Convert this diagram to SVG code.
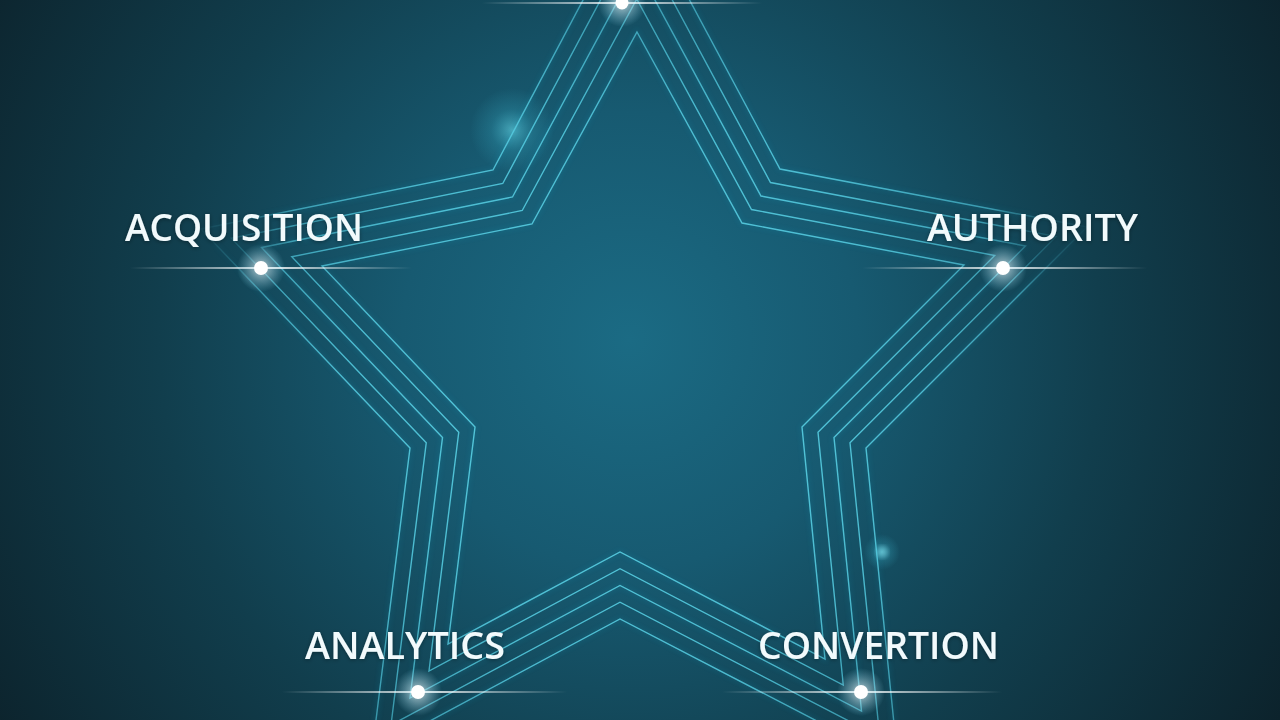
<svg xmlns="http://www.w3.org/2000/svg" width="1280" height="720" viewBox="0 0 1280 720">
  <defs>
    <radialGradient id="bg" gradientUnits="userSpaceOnUse" cx="630" cy="340" r="760">
      <stop offset="0" stop-color="#1b6b84"/>
      <stop offset="0.3" stop-color="#175a71"/>
      <stop offset="0.62" stop-color="#113e4d"/>
      <stop offset="1" stop-color="#0c222b"/>
    </radialGradient>
    <radialGradient id="lineFade" gradientUnits="userSpaceOnUse" cx="632" cy="400" r="480">
      <stop offset="0" stop-color="#5cd4e6" stop-opacity="0.95"/>
      <stop offset="0.6" stop-color="#55cde2" stop-opacity="0.85"/>
      <stop offset="1" stop-color="#4ac0d6" stop-opacity="0.5"/>
    </radialGradient>
    <radialGradient id="hole">
      <stop offset="0" stop-color="#181818"/>
      <stop offset="0.55" stop-color="#707070"/>
      <stop offset="1" stop-color="#ffffff"/>
    </radialGradient>
    <mask id="tipMask" maskUnits="userSpaceOnUse" x="0" y="-200" width="1280" height="1100">
      <rect x="0" y="-200" width="1280" height="1100" fill="#ffffff"/>
      <circle cx="200" cy="230" r="95" fill="url(#hole)"/>
      <circle cx="1085" cy="228" r="95" fill="url(#hole)"/>
    </mask>
    <radialGradient id="dotGlow">
      <stop offset="0" stop-color="#ffffff" stop-opacity="0.95"/>
      <stop offset="0.3" stop-color="#e0f8ff" stop-opacity="0.5"/>
      <stop offset="1" stop-color="#9be8ff" stop-opacity="0"/>
    </radialGradient>
    <radialGradient id="spot">
      <stop offset="0" stop-color="#6fe6f5" stop-opacity="0.55"/>
      <stop offset="0.5" stop-color="#40c0d8" stop-opacity="0.2"/>
      <stop offset="1" stop-color="#40c0d8" stop-opacity="0"/>
    </radialGradient>
    <linearGradient id="streak" x1="0" y1="0" x2="1" y2="0">
      <stop offset="0" stop-color="#ffffff" stop-opacity="0"/>
      <stop offset="0.5" stop-color="#ffffff" stop-opacity="0.85"/>
      <stop offset="1" stop-color="#ffffff" stop-opacity="0"/>
    </linearGradient>
    <filter id="blur" x="-10%" y="-10%" width="120%" height="120%">
      <feGaussianBlur stdDeviation="2.5"/>
    </filter>
    <filter id="textGlow" x="-10%" y="-30%" width="120%" height="160%">
      <feGaussianBlur in="SourceAlpha" stdDeviation="2"/>
      <feOffset dx="0" dy="1" result="b"/>
      <feFlood flood-color="#000000" flood-opacity="0.35"/>
      <feComposite in2="b" operator="in"/>
      <feMerge><feMergeNode/><feMergeNode in="SourceGraphic"/></feMerge>
    </filter>
  </defs>
  <style>
    .star { fill: none; stroke: url(#lineFade); stroke-width: 1.4; stroke-linejoin: miter; }
    .starGlow { fill: none; stroke: #3cc6e0; stroke-width: 4; opacity: 0.1; }
    .label { font-family: "Open Sans", "Liberation Sans", sans-serif; font-weight: 600; font-size: 38px; fill: #f2fafc; }
    .core { fill: #ffffff; }
  </style>

  <rect width="1280" height="720" fill="url(#bg)"/>

  <circle cx="512" cy="130" r="42" fill="url(#spot)"/>
  <circle cx="882" cy="552" r="18" fill="url(#spot)"/>
  <circle cx="882" cy="552" r="6" fill="#8ff0ff" opacity="0.35" filter="url(#blur)"/>

  <g id="connectors" mask="url(#tipMask)">
    <g filter="url(#blur)">
      <polygon class="starGlow" points="636,-100 780,169 1087,227 866,448 898,763 620,619 372,752 410,448 201,229 493,170"/>
      <polygon class="starGlow" points="636.5,-34 761,196 1025.5,246 834,437.5 861.5,711 620,585.5 410,698 442.5,437.5 261.5,247.5 512.5,197"/>
      <polygon class="starGlow" points="637,32 742,223 964,265 802,427 825,659 620,552 448,644 475,427 322,266 532,224"/>
    </g>
    <polygon class="star" points="636,-100 780,169 1087,227 866,448 898,763 620,619 372,752 410,448 201,229 493,170"/>
    <polygon class="star" points="636.25,-67 770.5,182.5 1056.25,236.5 850,442.75 879.75,737 620,602.25 391,725 426.25,442.75 231.25,238.25 502.75,183.5"/>
    <polygon class="star" points="636.5,-34 761,196 1025.5,246 834,437.5 861.5,711 620,585.5 410,698 442.5,437.5 261.5,247.5 512.5,197"/>
    <polygon class="star" points="636.75,-1 751.5,209.5 994.75,255.5 818,432.25 843.25,685 620,568.75 429,671 458.75,432.25 291.75,256.75 522.25,210.5"/>
    <polygon class="star" points="637,32 742,223 964,265 802,427 825,659 620,552 448,644 475,427 322,266 532,224"/>
  </g>

  <g id="node-top">
    <rect x="482" y="2" width="280" height="2" fill="url(#streak)"/>
    <circle cx="622" cy="3" r="24" fill="url(#dotGlow)"/>
    <circle class="core" cx="622" cy="3" r="6.5"/>
  </g>

  <g id="node-acquisition">
    <rect x="130" y="267" width="282" height="2" fill="url(#streak)"/>
    <circle cx="261" cy="268" r="24" fill="url(#dotGlow)"/>
    <circle class="core" cx="261" cy="268" r="7"/>
    <text class="label" x="125" y="241" textLength="238" lengthAdjust="spacingAndGlyphs" filter="url(#textGlow)">ACQUISITION</text>
  </g>

  <g id="node-authority">
    <rect x="862" y="267" width="285" height="2" fill="url(#streak)"/>
    <circle cx="1003" cy="268" r="24" fill="url(#dotGlow)"/>
    <circle class="core" cx="1003" cy="268" r="7"/>
    <text class="label" x="927" y="241" textLength="211" lengthAdjust="spacingAndGlyphs" filter="url(#textGlow)">AUTHORITY</text>
  </g>

  <g id="node-analytics">
    <rect x="282" y="691" width="285" height="2" fill="url(#streak)"/>
    <circle cx="418" cy="692" r="24" fill="url(#dotGlow)"/>
    <circle class="core" cx="418" cy="692" r="7"/>
    <text class="label" x="305" y="659" textLength="200" lengthAdjust="spacingAndGlyphs" filter="url(#textGlow)">ANALYTICS</text>
  </g>

  <g id="node-convertion">
    <rect x="722" y="691" width="280" height="2" fill="url(#streak)"/>
    <circle cx="861" cy="692" r="24" fill="url(#dotGlow)"/>
    <circle class="core" cx="861" cy="692" r="7"/>
    <text class="label" x="758" y="659" textLength="241" lengthAdjust="spacingAndGlyphs" filter="url(#textGlow)">CONVERTION</text>
  </g>
</svg>
